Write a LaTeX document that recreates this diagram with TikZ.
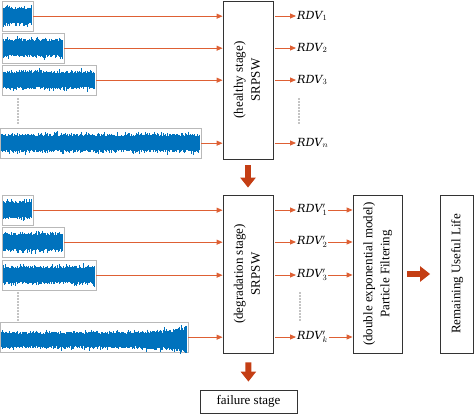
\documentclass[tikz,border=0pt]{standalone}
\usepackage{fontspec}
\setmainfont{Liberation Serif}
\newfontfamily\rdvfont{DejaVu Serif}
\usepackage{graphicx}
\usetikzlibrary{arrows.meta}

\definecolor{sigblue}{RGB}{0,114,189}
\definecolor{arrorange}{RGB}{222,96,52}
\definecolor{bigred}{RGB}{196,62,20}

\newcommand{\vtext}[1]{\rotatebox{90}{\begin{tabular}{@{}c@{}}#1\end{tabular}}}
\newcommand{\rdv}{{\rdvfont\itshape RDV}}
% noisy record: x0, x1, centre, amplitude, growth
\newcommand{\sigwave}[5]{%
  \draw[sigblue, line width=0.9pt] foreach \x in {#1,#1.8,...,#2} {
    (\x, {#3 - #4*(1+#5*pow((\x-#1)/(#2-#1),8))*(0.6+0.22*rnd+0.3*pow(rnd,5))})
    -- (\x, {#3 + #4*(1+#5*pow((\x-#1)/(#2-#1),8))*(0.6+0.22*rnd+0.3*pow(rnd,5))}) };}

\begin{document}
\begin{tikzpicture}[
  x=1pt, y=-1pt,
  sig/.style={draw=gray!55, line width=0.4pt, minimum height=30pt, inner sep=0pt, anchor=north west},
  stage/.style={draw=black!80, line width=0.8pt, fill=white, inner sep=0pt, minimum height=158pt,
    font=\fontsize{13}{17}\selectfont},
  rdvlab/.style={inner sep=1pt, anchor=west, font=\fontsize{11.2}{14}\selectfont},
  arr/.style={draw=arrorange, line width=0.9pt, -{Triangle[length=6pt,width=5pt]}},
  big/.style={draw=bigred, line width=6pt, -{Triangle[length=10pt,width=15pt]}},
  vdots/.style={line width=1.3pt, line cap=round, dash pattern=on 0pt off 3pt},
]
\useasboundingbox (0,0) rectangle (474,415);
\pgfmathsetseed{7}

% healthy records
\node[sig, minimum width=31pt] (h1) at (2,1) {};
\node[sig, minimum width=62pt] (h2) at (2,33) {};
\node[sig, minimum width=94pt] (h3) at (2,65) {};
\node[sig, minimum width=201pt] (hn) at (0,128) {};
\sigwave{3}{32}{16}{11}{0}
\sigwave{3}{63}{48}{11}{0}
\sigwave{3}{95}{80}{11}{0}
\sigwave{1}{200}{143}{11}{0}
\draw[vdots] (18,99) -- (18,125);

% degradation records
\node[sig, minimum width=31pt] (d1) at (2,195) {};
\node[sig, minimum width=62pt] (d2) at (2,227) {};
\node[sig, minimum width=94pt] (d3) at (2,260) {};
\node[sig, minimum width=188pt] (dk) at (0,322) {};
\sigwave{3}{32}{210}{11}{0}
\sigwave{3}{63}{242}{11}{0}
\sigwave{3}{95}{275}{11}{0}
\sigwave{1}{187}{340}{10}{0.6}
\draw[vdots] (18,293) -- (18,320);

% stages
\node[stage, minimum width=50pt] (hbox) at (248,80) {\vtext{(healthy stage)\\SRPSW}};
\node[stage, minimum width=50pt] (dbox) at (248,274) {\vtext{(degradation stage)\\SRPSW}};
\node[stage, minimum width=49pt] (pf) at (377.5,274) {\vtext{(double exponential model)\\Particle Filtering}};
\node[stage, minimum width=33pt] (rul) at (457,274) {\vtext{Remaining Useful Life}};
\node[stage, minimum width=97pt, minimum height=23pt] (fail) at (248.5,401.5) {failure stage};

% indicators
\node[rdvlab] (r1) at (296,16) {\rdv$_1$};
\node[rdvlab] (r2) at (296,48) {\rdv$_2$};
\node[rdvlab] (r3) at (296,80) {\rdv$_3$};
\node[rdvlab] (rn) at (296,143) {\rdv$_n$};
\draw[vdots] (299,99) -- (299,125);
\node[rdvlab] (q1) at (296,210) {\rdv$'_1$};
\node[rdvlab] (q2) at (296,242) {\rdv$'_2$};
\node[rdvlab] (q3) at (296,275) {\rdv$'_3$};
\node[rdvlab] (qk) at (296,337) {\rdv$'_k$};
\draw[vdots] (300,293) -- (300,320);

\foreach \s in {h1,h2,h3,hn} \draw[arr] (\s) -- (\s -| hbox.west);
\foreach \s in {d1,d2,d3,dk} \draw[arr] (\s) -- (\s -| dbox.west);
\foreach \r in {r1,r2,r3,rn} \draw[arr, shorten <=2pt] (hbox.east |- \r) -- (\r);
\foreach \r in {q1,q2,q3,qk} {
  \draw[arr, shorten <=2pt] (dbox.east |- \r) -- (\r);
  \draw[arr] (\r) -- (\r -| pf.west);
}

\draw[big, shorten <=6pt, shorten >=7pt] (hbox) -- (dbox);
\draw[big, shorten <=9pt, shorten >=8pt] (dbox) -- (fail);
\draw[big, shorten <=5pt, shorten >=10pt] (pf) -- (rul);
\end{tikzpicture}
\end{document}
